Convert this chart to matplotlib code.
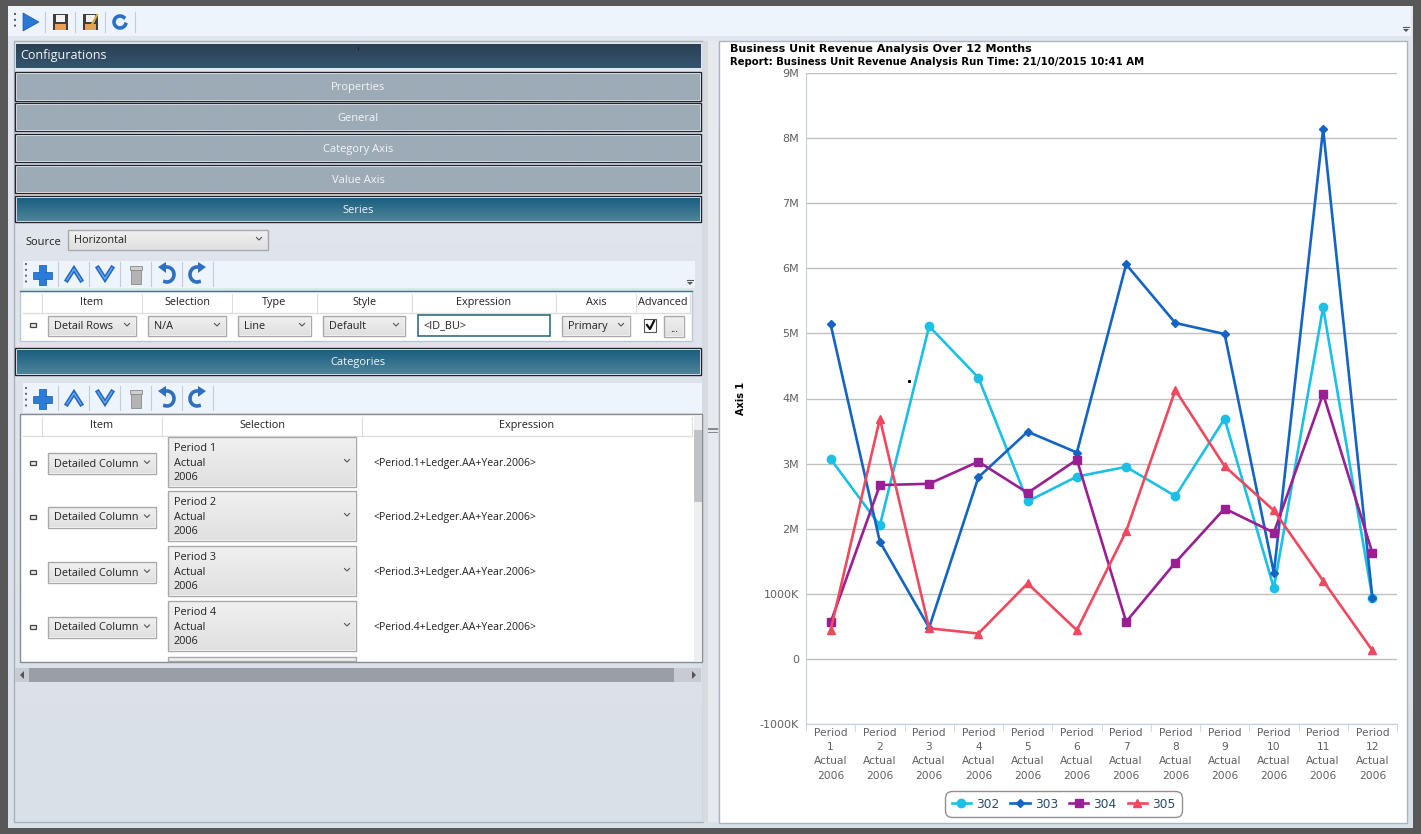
import numpy as np
import matplotlib
matplotlib.use("Agg")
import matplotlib.pyplot as plt
from matplotlib.patches import Rectangle, Polygon
from matplotlib.colors import LinearSegmentedColormap

W, H = 1421, 834

periods = [f"Period\n{i}\nActual\n2006" for i in range(1, 13)]
s302 = [3.07, 2.05, 5.11, 4.32, 2.42, 2.80, 2.95, 2.50, 3.69, 1.09, 5.40, 0.94]
s303 = [5.14, 1.80, 0.48, 2.79, 3.49, 3.17, 6.06, 5.16, 4.99, 1.32, 8.14, 0.94]
s304 = [0.56, 2.67, 2.69, 3.03, 2.55, 3.06, 0.57, 1.48, 2.31, 1.94, 4.07, 1.63]
s305 = [0.44, 3.69, 0.47, 0.39, 1.16, 0.44, 1.96, 4.13, 2.96, 2.28, 1.20, 0.13]
y_ticks = [-1, 0, 1, 2, 3, 4, 5, 6, 7, 8, 9]
y_labels = ["-1000K", "0", "1000K", "2M", "3M", "4M", "5M", "6M", "7M", "8M", "9M"]

bars = ["Properties", "General", "Category Axis", "Value Axis"]
bar_rows = [(72, 101), (103, 131), (134, 162), (165, 193)]
series_cols = [("Item", 42, 142), ("Selection", 142, 232), ("Type", 232, 317), ("Style", 317, 412),
               ("Expression", 412, 556), ("Axis", 556, 636), ("Advanced", 636, 690)]
series_combos = [("Detail Rows", 48, 136), ("N/A", 148, 226), ("Line", 238, 311),
                 ("Default", 323, 405), ("Primary", 562, 630)]
cat_cols = [("Item", 42, 162), ("Selection", 162, 362), ("Expression", 362, 692)]
cat_rows = [463, 517, 572, 627]

UI_FONT = "Open Sans"
plt.rcParams["font.family"] = "DejaVu Sans"

fig = plt.figure(figsize=(W / 100, H / 100), dpi=100, facecolor="#585858")
ui = fig.add_axes([0, 0, 1, 1])
ui.set_xlim(0, W)
ui.set_ylim(H, 0)
ui.axis("off")


def gradient(x0, y0, x1, y1, c0, c1, z=1):
    cmap = LinearSegmentedColormap.from_list("g", [c0, c1])
    ui.imshow(np.linspace(0, 1, 64).reshape(-1, 1), extent=(x0, x1, y1, y0), cmap=cmap,
              aspect="auto", zorder=z, interpolation="bilinear")


def rect(x0, y0, x1, y1, fc="none", ec="none", lw=1.0, z=2):
    ui.add_patch(Rectangle((x0, y0), x1 - x0, y1 - y0, fc=fc, ec=ec, lw=lw, zorder=z))


def label(x, y, s, color="#222222", size=8.0, ha="left", font=UI_FONT):
    return ui.text(x, y, s, color=color, fontsize=size, ha=ha, va="center", family=font, zorder=6)


def header_bar(y0, y1, text, c0, c1):
    rect(15, y0, 701, y1, fc="white", ec="#1c2530", lw=1.0, z=2)
    gradient(16.5, y0 + 1.5, 699.5, y1 - 1.5, c0, c1, z=3)
    label(358, (y0 + y1) / 2 + 1.2, text, color="#f2f5f7", ha="center", size=8.0)


def combo(x0, y0, x1, y1, lines, arrow=True):
    rect(x0, y0, x1, y1, ec="#a9a9a9", lw=1.0, z=3)
    gradient(x0 + 1, y0 + 1, x1 - 1, y1 - 1, "#f0f0f0", "#e0e0e0", z=2.5)
    if len(lines) == 1:
        label(x0 + 6, (y0 + y1) / 2 + 0.5, lines[0], size=7.8)
    else:
        for i, s in enumerate(lines):
            label(x0 + 6, y0 + 11.5 + i * 14.7, s, size=7.8)
    if arrow:
        xm, ym = x1 - 9, (y0 + y1) / 2 - 1
        ui.plot([xm - 2.5, xm, xm + 2.5], [ym - 1.5, ym + 1, ym - 1.5], color="#555555", lw=0.8, zorder=5)


def toggle(x, y):
    rect(x - 3, y - 2, x + 3, y + 2, fc="#e8e8e8", ec="#444444", lw=0.9, z=4)


def chevron(xc, y, direction):
    ys = [y + 6 * direction, y - 5 * direction, y + 6 * direction]
    ui.plot([xc - 7, xc, xc + 7], ys, color="#2268c0", lw=3.2, zorder=4, solid_joinstyle="miter")
    ui.plot([xc - 7, xc, xc + 7], ys, color="#6aaaf0", lw=1.0, zorder=4.5, solid_joinstyle="miter")


def turn_arrow(xc, y, sgn):
    t = np.linspace(-np.pi / 2, np.pi / 2 + 0.3, 24)
    ui.plot(xc + sgn * 7 * np.cos(t), y + 7.5 * np.sin(t) + 0.5, color="#2f6fc0", lw=2.6, zorder=4)
    ui.add_patch(Polygon([(xc - sgn * 9, y - 7), (xc - sgn * 1, y - 12), (xc - sgn * 1, y - 1)],
                         fc="#2f6fc0", ec="none", zorder=4))


def toolbar_icons(y):
    ui.plot([26, 26], [y - 11, y + 11], color="#666666", lw=1.4, ls=(0, (1, 2)), zorder=4)
    ui.add_patch(Rectangle((39, y - 9), 7, 20, fc="#2b7bd8", ec="#1a58a8", lw=0.5, zorder=4))
    ui.add_patch(Rectangle((33, y - 2.5), 19, 7, fc="#2b7bd8", ec="#1a58a8", lw=0.5, zorder=4))
    rect(40, y - 8, 45, y + 10, fc="#2b7bd8", z=4.5)
    chevron(74, y, 1)
    chevron(105, y, -1)
    ui.add_patch(Rectangle((131, y - 5), 10, 15, fc="#b4b4b4", ec="#888888", lw=0.6, zorder=4))
    ui.add_patch(Rectangle((130, y - 8), 12, 4, fc="#cfcfcf", ec="#888888", lw=0.6, zorder=4))
    turn_arrow(167, y, 1)
    turn_arrow(197, y, -1)
    for x in [58, 89, 120, 151, 182, 213]:
        ui.plot([x, x], [y - 12, y + 12], color="#c4ccd6", lw=0.8, zorder=4)


# window background
gradient(8, 6, 1413, 828, "#e2e7ed", "#dae0e7", z=0)
rect(8, 6, 1411, 36, fc="#eef4fc", z=1)

# top toolbar
ui.plot([15, 15], [13, 30], color="#555555", lw=1.4, ls=(0, (1, 2)), zorder=4)
ui.add_patch(Polygon([(23, 13), (39, 22), (23, 31)], fc="#2a78d6", ec="#1a58a8", lw=0.5, zorder=4))
rect(53, 14, 68, 30, fc="#3d3d3d", z=4)
rect(56, 15, 65, 22, fc="#f2f2f2", z=5)
rect(55, 24, 66, 30, fc="#e8a050", z=5)
rect(83, 14, 98, 30, fc="#3d3d3d", z=4)
rect(86, 15, 95, 22, fc="#f2f2f2", z=5)
rect(85, 24, 96, 30, fc="#e8a050", z=5)
ui.plot([90, 97], [28, 15], color="#d8b040", lw=1.6, zorder=6)
t = np.linspace(0.4, 5.4, 30)
ui.plot(120 + 6 * np.cos(t), 22 + 6 * np.sin(t), color="#2a70c8", lw=2.6, zorder=4)
for x in [45, 75, 105, 135]:
    ui.plot([x, x], [12, 32], color="#c4ccd6", lw=0.8, zorder=4)
ui.plot([1403, 1409], [27, 27], color="#555555", lw=0.8, zorder=4)
ui.add_patch(Polygon([(1403, 29), (1409, 29), (1406, 32)], fc="#555555", zorder=4))

# left panel
rect(13.5, 41, 702.5, 822, ec="#a8b0ba", lw=1.0, z=1)
gradient(16, 44, 701, 68, "#2b3f53", "#34566f", z=2)
label(20, 55.5, "Configurations", color="#f2f5f7", size=9.0)
ui.plot([358, 358], [47, 50], color="#222222", lw=0.6, zorder=4)

for text, (y0, y1) in zip(bars, bar_rows):
    header_bar(y0, y1, text, "#9dabb7", "#9dabb7")
header_bar(196, 222, "Series", "#1a5f80", "#4f8399")
header_bar(348, 375, "Categories", "#1a5f80", "#4f8399")

# source row
label(25, 242, "Source", size=8.0)
combo(68, 230, 268, 250, ["Horizontal"])

# series toolbar and grid
rect(23, 261, 695, 288, fc="#eef4fc", z=1.5)
toolbar_icons(274)
ui.plot([687, 693], [280, 280], color="#555555", lw=0.8, zorder=4)
ui.add_patch(Polygon([(687, 282), (693, 282), (690, 285)], fc="#555555", zorder=4))
rect(20, 291, 692, 341, fc="white", ec="#b8c8d6", lw=1.0, z=1.5)
ui.plot([20, 692], [291, 291], color="#3d7a95", lw=1.0, zorder=3)
ui.plot([23, 690], [313, 313], color="#dddddd", lw=1.0, zorder=3)
ui.plot([42, 42], [294, 312], color="#dddddd", lw=0.8, zorder=3)
for text, x0, x1 in series_cols:
    label((x0 + x1) / 2, 302.5, text, ha="center", size=7.8)
    ui.plot([x1, x1], [294, 312], color="#dddddd", lw=0.8, zorder=3)
toggle(33, 325)
for text, x0, x1 in series_combos:
    combo(x0, 316, x1, 336, [text])
rect(418, 315, 550, 336, fc="white", ec="#2e6f80", lw=1.2, z=3)
label(424, 326, "<ID_BU>", size=7.8)
rect(644, 319, 656, 332, fc="white", ec="#555555", lw=0.8, z=3)
ui.plot([647, 650, 654], [325, 329, 321], color="#111111", lw=1.6, zorder=4)
combo(664, 316, 684, 337, [""], arrow=False)
label(674, 329, "...", ha="center", size=7.0)

# categories toolbar and grid
rect(23, 383, 702, 413, fc="#eef4fc", z=1.5)
toolbar_icons(398)
rect(20, 414, 702, 662, fc="white", ec="#858c94", lw=1.0, z=1.5)
ui.plot([23, 692], [435.5, 435.5], color="#dddddd", lw=1.0, zorder=3)
ui.plot([42, 42], [417, 435], color="#dddddd", lw=0.8, zorder=3)
for text, x0, x1 in cat_cols:
    label((x0 + x1) / 2, 425.5, text, ha="center", size=7.8)
    ui.plot([x1, x1], [417, 435], color="#dddddd", lw=0.8, zorder=3)
for i, yc in enumerate(cat_rows):
    toggle(33, yc)
    combo(48, yc - 10, 156, yc + 11, ["Detailed Column"])
    combo(168, yc - 26, 356, yc + 24, [f"Period {i + 1}", "Actual", "2006"])
    label(374, yc + 0.5, f"<Period.{i + 1}+Ledger.AA+Year.2006>", size=7.6)
rect(168, 657, 356, 661, fc="#f0f0f0", ec="#a9a9a9", lw=1.0, z=3)
rect(694, 415, 702, 661, fc="#eeeeee", z=3)
rect(694, 430, 702, 502, fc="#c0c2c6", z=4)

# horizontal scrollbar
rect(15, 668, 701, 682, fc="#c8ccd2", z=2)
rect(29, 668, 674, 682, fc="#9a9ea5", z=3)
ui.add_patch(Polygon([(24, 671), (24, 679), (20, 675)], fc="#555555", zorder=4))
ui.add_patch(Polygon([(692, 671), (692, 679), (696, 675)], fc="#555555", zorder=4))

# splitter
rect(703, 41, 708, 822, fc="#d6dbe2", z=1)
rect(708, 41, 718, 822, fc="#e6e9ed", z=1)
rect(708, 428, 718, 430, fc="#8a8a8a", z=2)
rect(708, 431.5, 718, 433, fc="#8a8a8a", z=2)

# chart panel
rect(718.5, 41, 1407, 822.5, fc="white", ec="#aab4be", lw=1.0, z=1)
label(730, 48.5, "Business Unit Revenue Analysis Over 12 Months", color="black", size=8.0,
      font="DejaVu Sans").set_fontweight("bold")
label(730, 61.5, "Report: Business Unit Revenue Analysis Run Time: 21/10/2015 10:41 AM", color="black", size=7.3,
      font="DejaVu Sans").set_fontweight("bold")
t_axis = label(741, 398, "Axis 1", color="black", size=7.0, ha="center", font="DejaVu Sans")
t_axis.set_fontweight("bold")
t_axis.set_rotation(90)
ui.plot([909], [381], marker="s", ms=1.2, color="black", zorder=6)

# the chart itself
ax = fig.add_axes([806 / W, 1 - 724 / H, (1397 - 806) / W, (724 - 73) / H])
ax.patch.set_alpha(0)
x = np.arange(12)
ax.plot(x, s302, color="#1cbfe6", lw=1.9, marker="o", ms=6.0, label="302")
ax.plot(x, s303, color="#1464c4", lw=1.9, marker="D", ms=3.8, label="303")
ax.plot(x, s304, color="#9a1f94", lw=1.9, marker="s", ms=5.4, label="304")
ax.plot(x, s305, color="#f0485f", lw=1.9, marker="^", ms=5.8, label="305")

ax.set_xlim(-0.5, 11.5)
ax.set_ylim(-1, 9)
ax.set_yticks(y_ticks, y_labels)
ax.set_xticks(x, periods)
ax.set_xticks(np.arange(-0.5, 12), minor=True)
ax.tick_params(axis="y", length=0, pad=5, labelsize=8, labelcolor="#606060")
ax.tick_params(axis="x", which="major", length=0, pad=3, labelsize=7.7, labelcolor="#606060")
ax.tick_params(axis="x", which="minor", length=5, color="#c0d0e0")
for lab in ax.get_xticklabels():
    lab.set_linespacing(1.52)
ax.grid(axis="y", color="#c0c0c0", lw=1.0)
ax.set_axisbelow(True)
for side in ["top", "right"]:
    ax.spines[side].set_visible(False)
for side in ["left", "bottom"]:
    ax.spines[side].set_color("#c0d0e0")

leg = ax.legend(loc="center", bbox_to_anchor=(1063.5 / W, 1 - 804 / H), bbox_transform=fig.transFigure, ncol=4,
                frameon=True, fancybox=True, edgecolor="#909090", fontsize=8.8, handlelength=1.6,
                handletextpad=0.4, columnspacing=0.9, borderpad=0.55, labelcolor="#274b6d")
leg.get_frame().set_linewidth(1.0)
leg.get_frame().set_alpha(1)
leg.get_frame().set_boxstyle("round", pad=0, rounding_size=0.6)

fig.savefig("out.png", dpi=100, facecolor=fig.get_facecolor())
